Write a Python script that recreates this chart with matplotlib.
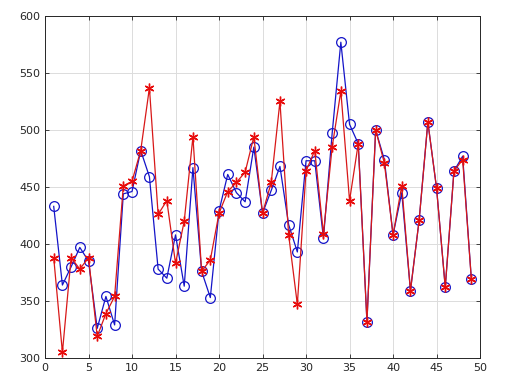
import numpy as np
import matplotlib
matplotlib.use("Agg")
import matplotlib.pyplot as plt

# sample index 1..49
x = np.arange(1, 50)

# blue series (circles)
blue_vals = [433, 364, 380, 397, 385, 326, 354, 329, 444, 446,
             482, 459, 378, 370, 408, 363, 467, 376, 353, 429,
             461, 445, 437, 485, 427, 447, 468, 417, 393, 473,
             473, 405, 497, 577, 505, 488, 332, 500, 474, 408,
             445, 359, 421, 507, 449, 362, 464, 477, 369]

# red series (asterisks)
red_vals = [388, 305, 388, 378, 388, 319, 339, 354, 451, 455,
            482, 537, 426, 438, 383, 420, 494, 376, 386, 427,
            446, 454, 463, 494, 427, 454, 525, 408, 347, 464,
            482, 409, 485, 534, 438, 488, 332, 500, 471, 408,
            451, 359, 421, 507, 449, 362, 464, 474, 369]

plt.rcParams.update({
    "font.family": "DejaVu Sans",
    "font.size": 8,
    "xtick.direction": "in",
    "ytick.direction": "in",
    "xtick.top": True,
    "ytick.right": True,
})

fig = plt.figure(figsize=(5.08, 3.89), dpi=100)
ax = fig.add_axes([0.0886, 0.0797, 0.8564, 0.8792])

ax.plot(x, blue_vals, "-o", color="#1414c8", lw=0.9, ms=7,
        markerfacecolor="none", markeredgewidth=0.9)
ax.plot(x, red_vals, "-", color="#d81818", lw=0.9,
        marker=(6, 2, 0), ms=7, markeredgewidth=1.0, markeredgecolor="#e80c0c")

ax.set_xlim(0, 50)
ax.set_ylim(300, 600)
ax.set_xticks(np.arange(0, 51, 5))
ax.set_yticks(np.arange(300, 601, 50))
ax.grid(True, color="#dcdcdc", linewidth=0.7)
ax.set_axisbelow(True)
for s in ax.spines.values():
    s.set_color("#262626")
    s.set_linewidth(0.7)
ax.tick_params(colors="#262626", length=3, width=0.6, labelsize=8)

fig.savefig("out.png", dpi=100)
